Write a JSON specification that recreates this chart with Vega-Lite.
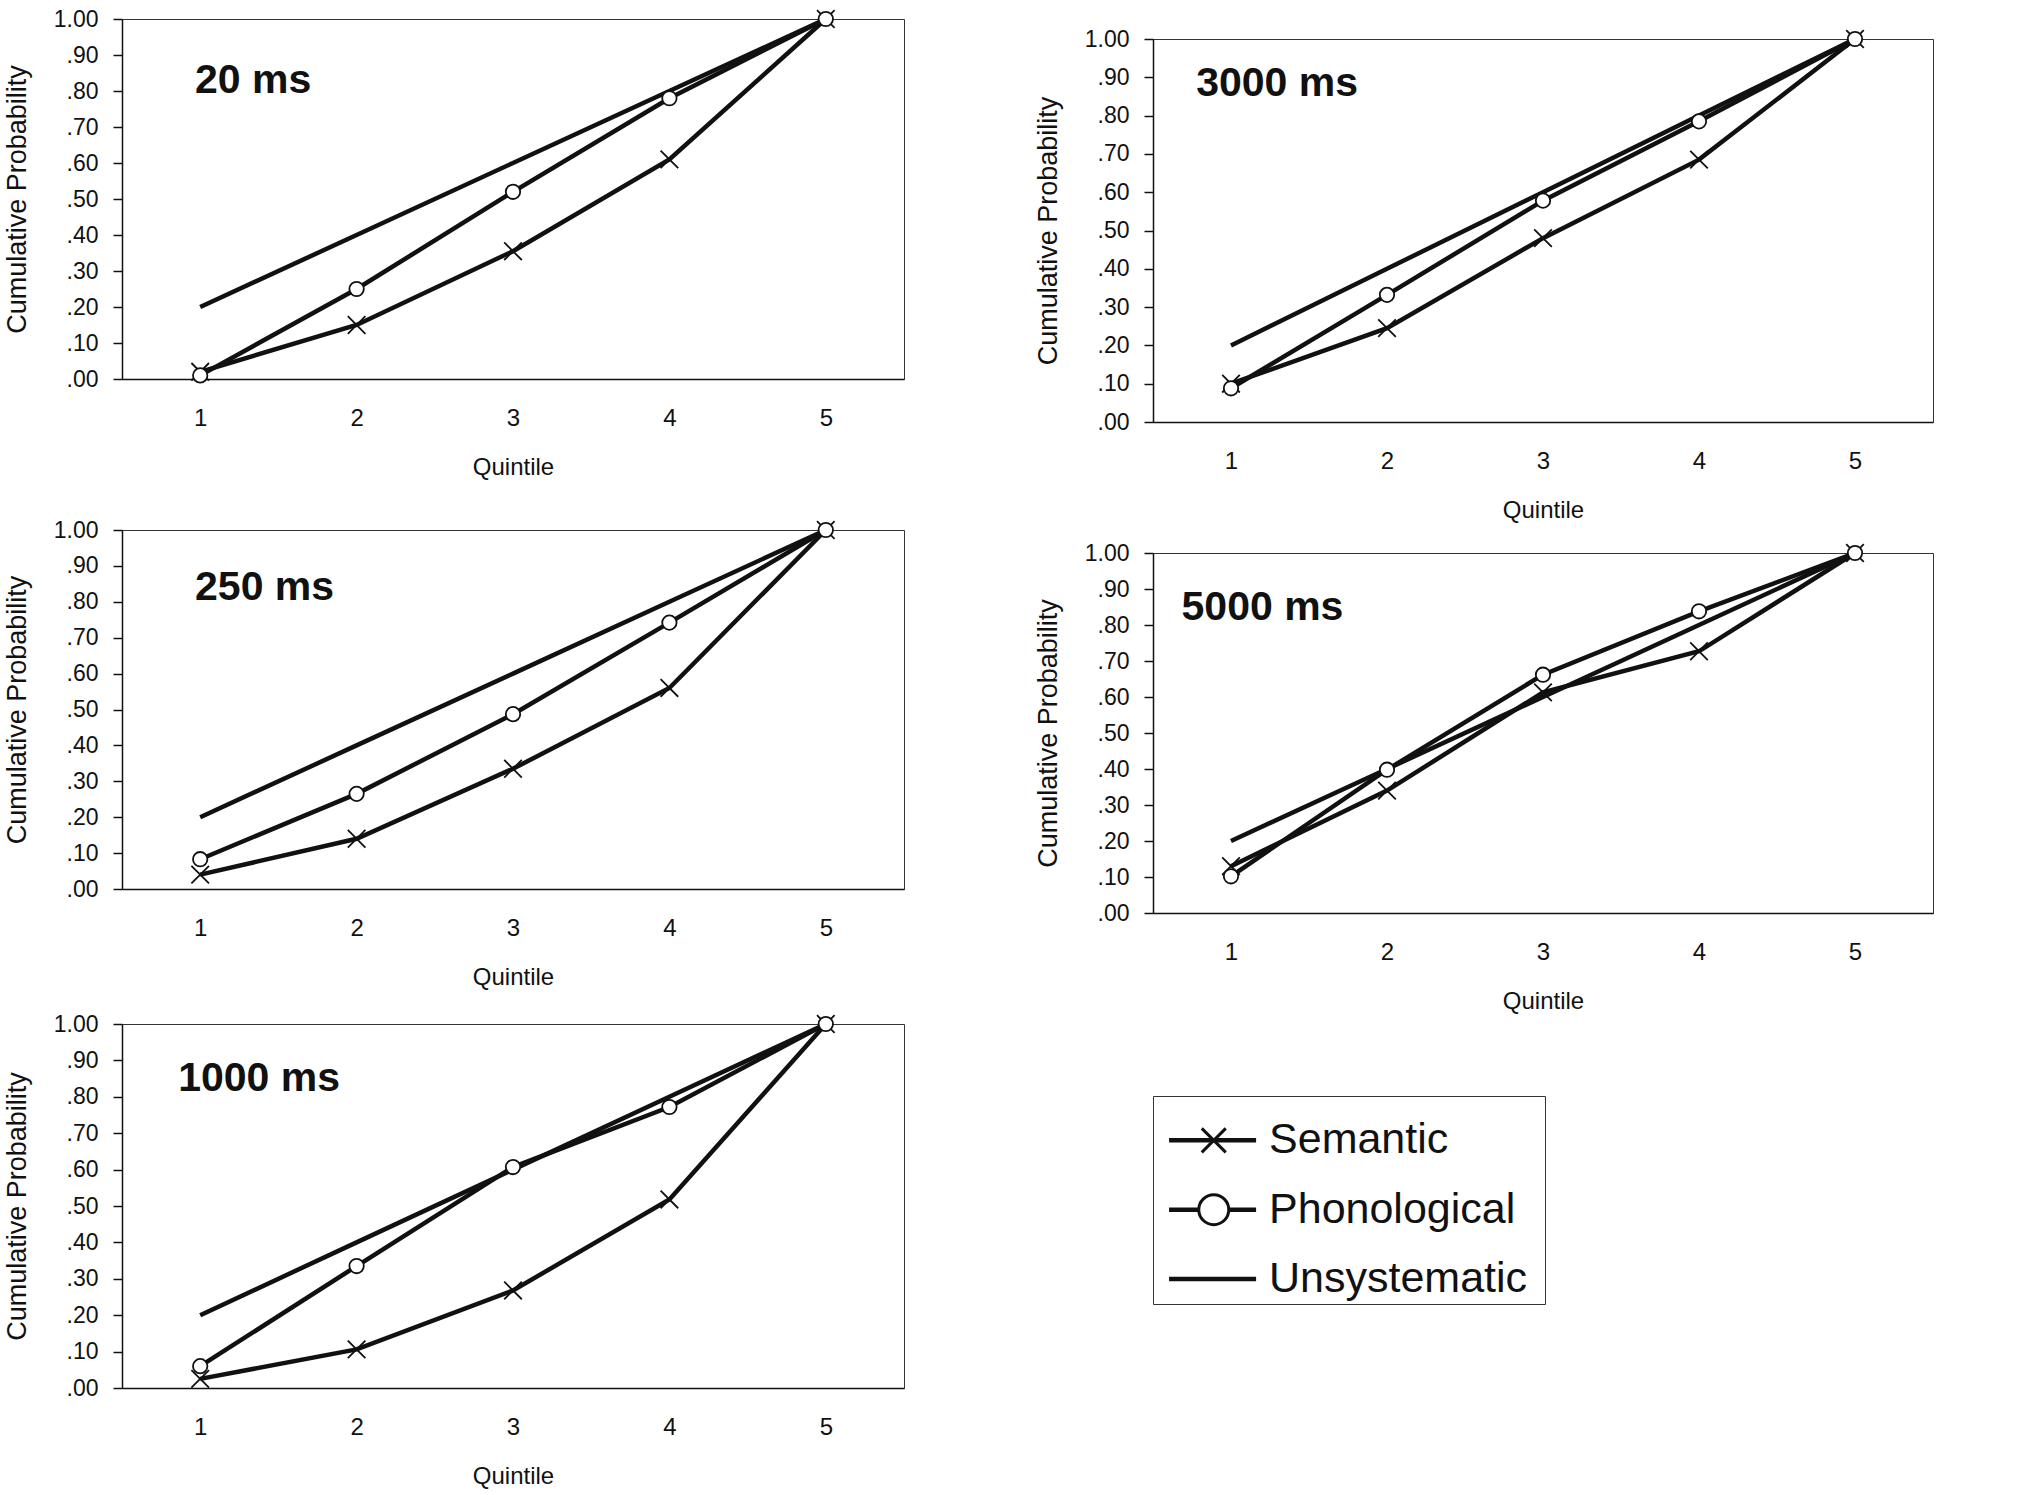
{
  "$schema": "https://vega.github.io/schema/vega-lite/v6.json",
  "background": "white",
  "padding": {"left": 2, "top": 6, "right": 0, "bottom": 0},
  "datasets": {
    "legend": [
      {"series": "Semantic"},
      {"series": "Phonological"},
      {"series": "Unsystematic"}
    ],
    "cdf": [
      {"panel": "20 ms", "series": "Semantic", "quintile": 1, "p": 0.02},
      {"panel": "20 ms", "series": "Semantic", "quintile": 2, "p": 0.15},
      {"panel": "20 ms", "series": "Semantic", "quintile": 3, "p": 0.355},
      {"panel": "20 ms", "series": "Semantic", "quintile": 4, "p": 0.61},
      {"panel": "20 ms", "series": "Semantic", "quintile": 5, "p": 1.0},
      {"panel": "20 ms", "series": "Phonological", "quintile": 1, "p": 0.01},
      {"panel": "20 ms", "series": "Phonological", "quintile": 2, "p": 0.25},
      {"panel": "20 ms", "series": "Phonological", "quintile": 3, "p": 0.52},
      {"panel": "20 ms", "series": "Phonological", "quintile": 4, "p": 0.78},
      {"panel": "20 ms", "series": "Phonological", "quintile": 5, "p": 1.0},
      {"panel": "20 ms", "series": "Unsystematic", "quintile": 1, "p": 0.2},
      {"panel": "20 ms", "series": "Unsystematic", "quintile": 2, "p": 0.4},
      {"panel": "20 ms", "series": "Unsystematic", "quintile": 3, "p": 0.6},
      {"panel": "20 ms", "series": "Unsystematic", "quintile": 4, "p": 0.8},
      {"panel": "20 ms", "series": "Unsystematic", "quintile": 5, "p": 1.0},
      {"panel": "250 ms", "series": "Semantic", "quintile": 1, "p": 0.04},
      {"panel": "250 ms", "series": "Semantic", "quintile": 2, "p": 0.14},
      {"panel": "250 ms", "series": "Semantic", "quintile": 3, "p": 0.335},
      {"panel": "250 ms", "series": "Semantic", "quintile": 4, "p": 0.56},
      {"panel": "250 ms", "series": "Semantic", "quintile": 5, "p": 1.0},
      {"panel": "250 ms", "series": "Phonological", "quintile": 1, "p": 0.083},
      {"panel": "250 ms", "series": "Phonological", "quintile": 2, "p": 0.265},
      {"panel": "250 ms", "series": "Phonological", "quintile": 3, "p": 0.487},
      {"panel": "250 ms", "series": "Phonological", "quintile": 4, "p": 0.742},
      {"panel": "250 ms", "series": "Phonological", "quintile": 5, "p": 1.0},
      {"panel": "250 ms", "series": "Unsystematic", "quintile": 1, "p": 0.2},
      {"panel": "250 ms", "series": "Unsystematic", "quintile": 2, "p": 0.4},
      {"panel": "250 ms", "series": "Unsystematic", "quintile": 3, "p": 0.6},
      {"panel": "250 ms", "series": "Unsystematic", "quintile": 4, "p": 0.8},
      {"panel": "250 ms", "series": "Unsystematic", "quintile": 5, "p": 1.0},
      {"panel": "1000 ms", "series": "Semantic", "quintile": 1, "p": 0.025},
      {"panel": "1000 ms", "series": "Semantic", "quintile": 2, "p": 0.106},
      {"panel": "1000 ms", "series": "Semantic", "quintile": 3, "p": 0.268},
      {"panel": "1000 ms", "series": "Semantic", "quintile": 4, "p": 0.518},
      {"panel": "1000 ms", "series": "Semantic", "quintile": 5, "p": 1.0},
      {"panel": "1000 ms", "series": "Phonological", "quintile": 1, "p": 0.06},
      {"panel": "1000 ms", "series": "Phonological", "quintile": 2, "p": 0.335},
      {"panel": "1000 ms", "series": "Phonological", "quintile": 3, "p": 0.607},
      {"panel": "1000 ms", "series": "Phonological", "quintile": 4, "p": 0.772},
      {"panel": "1000 ms", "series": "Phonological", "quintile": 5, "p": 1.0},
      {"panel": "1000 ms", "series": "Unsystematic", "quintile": 1, "p": 0.2},
      {"panel": "1000 ms", "series": "Unsystematic", "quintile": 2, "p": 0.4},
      {"panel": "1000 ms", "series": "Unsystematic", "quintile": 3, "p": 0.6},
      {"panel": "1000 ms", "series": "Unsystematic", "quintile": 4, "p": 0.8},
      {"panel": "1000 ms", "series": "Unsystematic", "quintile": 5, "p": 1.0},
      {"panel": "3000 ms", "series": "Semantic", "quintile": 1, "p": 0.10},
      {"panel": "3000 ms", "series": "Semantic", "quintile": 2, "p": 0.245},
      {"panel": "3000 ms", "series": "Semantic", "quintile": 3, "p": 0.48},
      {"panel": "3000 ms", "series": "Semantic", "quintile": 4, "p": 0.685},
      {"panel": "3000 ms", "series": "Semantic", "quintile": 5, "p": 1.0},
      {"panel": "3000 ms", "series": "Phonological", "quintile": 1, "p": 0.088},
      {"panel": "3000 ms", "series": "Phonological", "quintile": 2, "p": 0.332},
      {"panel": "3000 ms", "series": "Phonological", "quintile": 3, "p": 0.578},
      {"panel": "3000 ms", "series": "Phonological", "quintile": 4, "p": 0.785},
      {"panel": "3000 ms", "series": "Phonological", "quintile": 5, "p": 1.0},
      {"panel": "3000 ms", "series": "Unsystematic", "quintile": 1, "p": 0.2},
      {"panel": "3000 ms", "series": "Unsystematic", "quintile": 2, "p": 0.4},
      {"panel": "3000 ms", "series": "Unsystematic", "quintile": 3, "p": 0.6},
      {"panel": "3000 ms", "series": "Unsystematic", "quintile": 4, "p": 0.8},
      {"panel": "3000 ms", "series": "Unsystematic", "quintile": 5, "p": 1.0},
      {"panel": "5000 ms", "series": "Semantic", "quintile": 1, "p": 0.13},
      {"panel": "5000 ms", "series": "Semantic", "quintile": 2, "p": 0.34},
      {"panel": "5000 ms", "series": "Semantic", "quintile": 3, "p": 0.613},
      {"panel": "5000 ms", "series": "Semantic", "quintile": 4, "p": 0.727},
      {"panel": "5000 ms", "series": "Semantic", "quintile": 5, "p": 1.0},
      {"panel": "5000 ms", "series": "Phonological", "quintile": 1, "p": 0.102},
      {"panel": "5000 ms", "series": "Phonological", "quintile": 2, "p": 0.398},
      {"panel": "5000 ms", "series": "Phonological", "quintile": 3, "p": 0.662},
      {"panel": "5000 ms", "series": "Phonological", "quintile": 4, "p": 0.838},
      {"panel": "5000 ms", "series": "Phonological", "quintile": 5, "p": 1.0},
      {"panel": "5000 ms", "series": "Unsystematic", "quintile": 1, "p": 0.2},
      {"panel": "5000 ms", "series": "Unsystematic", "quintile": 2, "p": 0.4},
      {"panel": "5000 ms", "series": "Unsystematic", "quintile": 3, "p": 0.6},
      {"panel": "5000 ms", "series": "Unsystematic", "quintile": 4, "p": 0.8},
      {"panel": "5000 ms", "series": "Unsystematic", "quintile": 5, "p": 1.0}
    ]
  },
  "hconcat": [
    {
      "vconcat": [
        {
          "width": 782,
          "height": 360,
          "data": {"name": "cdf"},
          "transform": [{"filter": "datum.panel === '20 ms'"}],
          "encoding": {
            "x": {"field": "quintile", "type": "quantitative", "scale": {"domain": [0.5, 5.5], "nice": false, "zero": false}, "axis": {"values": [1, 2, 3, 4, 5], "format": "d", "title": "Quintile"}},
            "y": {"field": "p", "type": "quantitative", "scale": {"domain": [0, 1], "nice": false}, "axis": {"values": [0, 0.1, 0.2, 0.3, 0.4, 0.5, 0.6, 0.7, 0.8, 0.9, 1], "labelExpr": "datum.value >= 1 ? '1.00' : replace(format(datum.value, '.2f'), '0.', '.')", "title": "Cumulative Probability"}}
          },
          "layer": [
            {"mark": {"type": "line", "color": "#111", "strokeWidth": 4.5}, "encoding": {"detail": {"field": "series"}, "order": {"field": "quintile"}}},
            {
              "transform": [{"filter": "datum.series !== 'Unsystematic'"}],
              "mark": {"type": "point", "filled": true, "fill": "white", "stroke": "#111", "strokeWidth": 1.8, "opacity": 1, "size": 256},
              "encoding": {"shape": {"field": "series", "type": "nominal", "scale": {"domain": ["Semantic", "Phonological", "Unsystematic"], "range": ["M-1.1,-1.1L1.1,1.1M-1.1,1.1L1.1,-1.1", "M-0.9,0A0.9,0.9,0,1,1,0.9,0A0.9,0.9,0,1,1,-0.9,0Z", "M0,0"]}, "legend": null}}
            },
            {
              "transform": [{"filter": "datum.series === 'Unsystematic' && datum.quintile === 5"}],
              "mark": {"type": "text", "align": "left", "baseline": "middle", "font": "Liberation Sans", "fontWeight": "bold", "fontSize": 41, "fill": "#111"},
              "encoding": {"x": {"datum": 0.967}, "y": {"datum": 0.829}, "text": {"field": "panel"}}
            }
          ]
        },
        {
          "vconcat": [
            {
              "width": 782,
              "height": 359,
              "data": {"name": "cdf"},
              "transform": [{"filter": "datum.panel === '250 ms'"}],
              "encoding": {
                "x": {"field": "quintile", "type": "quantitative", "scale": {"domain": [0.5, 5.5], "nice": false, "zero": false}, "axis": {"values": [1, 2, 3, 4, 5], "format": "d", "title": "Quintile"}},
                "y": {"field": "p", "type": "quantitative", "scale": {"domain": [0, 1], "nice": false}, "axis": {"values": [0, 0.1, 0.2, 0.3, 0.4, 0.5, 0.6, 0.7, 0.8, 0.9, 1], "labelExpr": "datum.value >= 1 ? '1.00' : replace(format(datum.value, '.2f'), '0.', '.')", "title": "Cumulative Probability"}}
              },
              "layer": [
                {"mark": {"type": "line", "color": "#111", "strokeWidth": 4.5}, "encoding": {"detail": {"field": "series"}, "order": {"field": "quintile"}}},
                {
                  "transform": [{"filter": "datum.series !== 'Unsystematic'"}],
                  "mark": {"type": "point", "filled": true, "fill": "white", "stroke": "#111", "strokeWidth": 1.8, "opacity": 1, "size": 256},
                  "encoding": {"shape": {"field": "series", "type": "nominal", "scale": {"domain": ["Semantic", "Phonological", "Unsystematic"], "range": ["M-1.1,-1.1L1.1,1.1M-1.1,1.1L1.1,-1.1", "M-0.9,0A0.9,0.9,0,1,1,0.9,0A0.9,0.9,0,1,1,-0.9,0Z", "M0,0"]}, "legend": null}}
                },
                {
                  "transform": [{"filter": "datum.series === 'Unsystematic' && datum.quintile === 5"}],
                  "mark": {"type": "text", "align": "left", "baseline": "middle", "font": "Liberation Sans", "fontWeight": "bold", "fontSize": 41, "fill": "#111"},
                  "encoding": {"x": {"datum": 0.967}, "y": {"datum": 0.838}, "text": {"field": "panel"}}
                }
              ]
            },
            {
              "width": 782,
              "height": 364,
              "data": {"name": "cdf"},
              "transform": [{"filter": "datum.panel === '1000 ms'"}],
              "encoding": {
                "x": {"field": "quintile", "type": "quantitative", "scale": {"domain": [0.5, 5.5], "nice": false, "zero": false}, "axis": {"values": [1, 2, 3, 4, 5], "format": "d", "title": "Quintile"}},
                "y": {"field": "p", "type": "quantitative", "scale": {"domain": [0, 1], "nice": false}, "axis": {"values": [0, 0.1, 0.2, 0.3, 0.4, 0.5, 0.6, 0.7, 0.8, 0.9, 1], "labelExpr": "datum.value >= 1 ? '1.00' : replace(format(datum.value, '.2f'), '0.', '.')", "title": "Cumulative Probability"}}
              },
              "layer": [
                {"mark": {"type": "line", "color": "#111", "strokeWidth": 4.5}, "encoding": {"detail": {"field": "series"}, "order": {"field": "quintile"}}},
                {
                  "transform": [{"filter": "datum.series !== 'Unsystematic'"}],
                  "mark": {"type": "point", "filled": true, "fill": "white", "stroke": "#111", "strokeWidth": 1.8, "opacity": 1, "size": 256},
                  "encoding": {"shape": {"field": "series", "type": "nominal", "scale": {"domain": ["Semantic", "Phonological", "Unsystematic"], "range": ["M-1.1,-1.1L1.1,1.1M-1.1,1.1L1.1,-1.1", "M-0.9,0A0.9,0.9,0,1,1,0.9,0A0.9,0.9,0,1,1,-0.9,0Z", "M0,0"]}, "legend": null}}
                },
                {
                  "transform": [{"filter": "datum.series === 'Unsystematic' && datum.quintile === 5"}],
                  "mark": {"type": "text", "align": "left", "baseline": "middle", "font": "Liberation Sans", "fontWeight": "bold", "fontSize": 41, "fill": "#111"},
                  "encoding": {"x": {"datum": 0.859}, "y": {"datum": 0.849}, "text": {"field": "panel"}}
                }
              ]
            }
          ],
          "spacing": 21,
          "resolve": {"scale": {"shape": "independent"}}
        }
      ],
      "spacing": 37,
      "resolve": {"scale": {"shape": "independent"}}
    },
    {
      "vconcat": [
        {
          "width": 780,
          "height": 1,
          "data": {"values": []},
          "mark": {"type": "point"},
          "view": {"stroke": null}
        },
        {
          "vconcat": [
            {
              "vconcat": [
                {
                  "width": 780,
                  "height": 383,
                  "data": {"name": "cdf"},
                  "transform": [{"filter": "datum.panel === '3000 ms'"}],
                  "encoding": {
                    "x": {"field": "quintile", "type": "quantitative", "scale": {"domain": [0.5, 5.5], "nice": false, "zero": false}, "axis": {"values": [1, 2, 3, 4, 5], "format": "d", "title": "Quintile"}},
                    "y": {"field": "p", "type": "quantitative", "scale": {"domain": [0, 1], "nice": false}, "axis": {"values": [0, 0.1, 0.2, 0.3, 0.4, 0.5, 0.6, 0.7, 0.8, 0.9, 1], "labelExpr": "datum.value >= 1 ? '1.00' : replace(format(datum.value, '.2f'), '0.', '.')", "title": "Cumulative Probability"}}
                  },
                  "layer": [
                    {"mark": {"type": "line", "color": "#111", "strokeWidth": 4.5}, "encoding": {"detail": {"field": "series"}, "order": {"field": "quintile"}}},
                    {
                      "transform": [{"filter": "datum.series !== 'Unsystematic'"}],
                      "mark": {"type": "point", "filled": true, "fill": "white", "stroke": "#111", "strokeWidth": 1.8, "opacity": 1, "size": 256},
                      "encoding": {"shape": {"field": "series", "type": "nominal", "scale": {"domain": ["Semantic", "Phonological", "Unsystematic"], "range": ["M-1.1,-1.1L1.1,1.1M-1.1,1.1L1.1,-1.1", "M-0.9,0A0.9,0.9,0,1,1,0.9,0A0.9,0.9,0,1,1,-0.9,0Z", "M0,0"]}, "legend": null}}
                    },
                    {
                      "transform": [{"filter": "datum.series === 'Unsystematic' && datum.quintile === 5"}],
                      "mark": {"type": "text", "align": "left", "baseline": "middle", "font": "Liberation Sans", "fontWeight": "bold", "fontSize": 41, "fill": "#111"},
                      "encoding": {"x": {"datum": 0.777}, "y": {"datum": 0.883}, "text": {"field": "panel"}}
                    }
                  ]
                },
                {
                  "width": 780,
                  "height": 360,
                  "data": {"name": "cdf"},
                  "transform": [{"filter": "datum.panel === '5000 ms'"}],
                  "encoding": {
                    "x": {"field": "quintile", "type": "quantitative", "scale": {"domain": [0.5, 5.5], "nice": false, "zero": false}, "axis": {"values": [1, 2, 3, 4, 5], "format": "d", "title": "Quintile"}},
                    "y": {"field": "p", "type": "quantitative", "scale": {"domain": [0, 1], "nice": false}, "axis": {"values": [0, 0.1, 0.2, 0.3, 0.4, 0.5, 0.6, 0.7, 0.8, 0.9, 1], "labelExpr": "datum.value >= 1 ? '1.00' : replace(format(datum.value, '.2f'), '0.', '.')", "title": "Cumulative Probability"}}
                  },
                  "layer": [
                    {"mark": {"type": "line", "color": "#111", "strokeWidth": 4.5}, "encoding": {"detail": {"field": "series"}, "order": {"field": "quintile"}}},
                    {
                      "transform": [{"filter": "datum.series !== 'Unsystematic'"}],
                      "mark": {"type": "point", "filled": true, "fill": "white", "stroke": "#111", "strokeWidth": 1.8, "opacity": 1, "size": 256},
                      "encoding": {"shape": {"field": "series", "type": "nominal", "scale": {"domain": ["Semantic", "Phonological", "Unsystematic"], "range": ["M-1.1,-1.1L1.1,1.1M-1.1,1.1L1.1,-1.1", "M-0.9,0A0.9,0.9,0,1,1,0.9,0A0.9,0.9,0,1,1,-0.9,0Z", "M0,0"]}, "legend": null}}
                    },
                    {
                      "transform": [{"filter": "datum.series === 'Unsystematic' && datum.quintile === 5"}],
                      "mark": {"type": "text", "align": "left", "baseline": "middle", "font": "Liberation Sans", "fontWeight": "bold", "fontSize": 41, "fill": "#111"},
                      "encoding": {"x": {"datum": 0.683}, "y": {"datum": 0.847}, "text": {"field": "panel"}}
                    }
                  ]
                }
              ],
              "spacing": 17,
              "resolve": {"scale": {"shape": "independent"}}
            },
            {
              "width": 392,
              "height": 208,
              "data": {"name": "legend"},
              "encoding": {
                "y": {"field": "series", "type": "nominal", "sort": null, "scale": {"type": "point", "domain": ["Semantic", "Phonological", "Unsystematic"], "padding": 0.5, "align": 0.64}, "axis": null}
              },
              "layer": [
                {
                  "mark": {"type": "rule", "color": "#111", "strokeWidth": 4.5},
                  "encoding": {
                    "x": {"datum": 0.041, "type": "quantitative", "scale": {"domain": [0, 1], "nice": false, "zero": false}, "axis": null},
                    "x2": {"datum": 0.263}
                  }
                },
                {
                  "transform": [{"filter": "datum.series !== 'Unsystematic'"}],
                  "mark": {"type": "point", "filled": true, "fill": "white", "stroke": "#111", "strokeWidth": 3, "opacity": 1, "size": 900},
                  "encoding": {
                    "x": {"datum": 0.155, "type": "quantitative", "axis": null},
                    "shape": {"field": "series", "type": "nominal", "scale": {"domain": ["Semantic", "Phonological", "Unsystematic"], "range": ["M-0.8,-0.8L0.8,0.8M-0.8,0.8L0.8,-0.8", "M-1,0A1,1,0,1,1,1,0A1,1,0,1,1,-1,0Z", "M0,0"]}, "legend": null}
                  }
                },
                {
                  "mark": {"type": "text", "align": "left", "baseline": "middle", "font": "Liberation Sans", "fontSize": 43, "fill": "#111"},
                  "encoding": {
                    "x": {"datum": 0.296, "type": "quantitative", "axis": null},
                    "text": {"field": "series"}
                  }
                }
              ]
            }
          ],
          "spacing": 81,
          "resolve": {"scale": {"shape": "independent"}}
        }
      ],
      "spacing": 6,
      "resolve": {"scale": {"shape": "independent"}}
    }
  ],
  "spacing": 128,
  "resolve": {"scale": {"shape": "independent"}},
  "config": {
    "view": {"stroke": "#333", "strokeWidth": 1},
    "font": "Liberation Sans",
    "axis": {
      "grid": false,
      "domainColor": "#111",
      "domainWidth": 1.5,
      "tickColor": "#111",
      "tickWidth": 1.5,
      "labelColor": "#111",
      "titleColor": "#111",
      "labelFont": "Liberation Sans",
      "titleFont": "Liberation Sans",
      "titleFontWeight": "normal",
      "labelFontSize": 23,
      "titleFontSize": 27
    },
    "axisX": {"ticks": false, "labelPadding": 27, "titlePadding": 25, "labelAngle": 0, "labelFontSize": 24, "titleFontSize": 24},
    "axisY": {"tickSize": 9, "labelPadding": 15, "titlePadding": 22}
  }
}
